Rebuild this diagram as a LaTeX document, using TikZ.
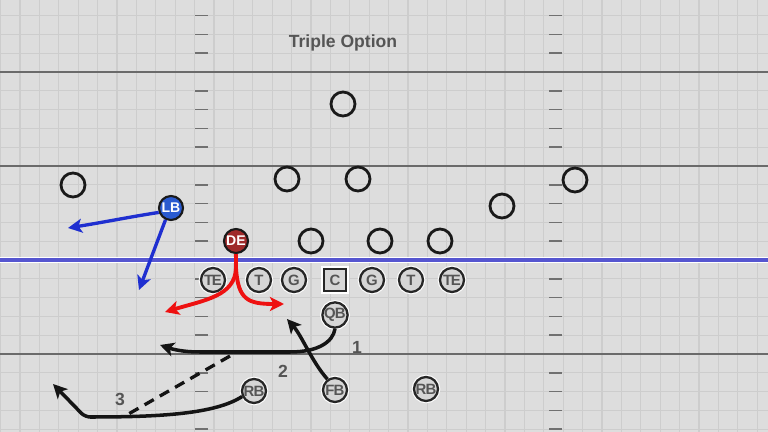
\documentclass[tikz,border=0pt]{standalone}
\usepackage{fontspec}
\setmainfont{Liberation Sans}
\usetikzlibrary{arrows.meta}
\definecolor{bgc}{HTML}{DDDDDD}
\definecolor{gridc}{HTML}{CDCDCD}
\definecolor{yardc}{HTML}{6A6A6A}
\definecolor{hashc}{HTML}{707070}
\definecolor{losc}{HTML}{5656D0}
\definecolor{labgray}{HTML}{555555}
\definecolor{offfill}{HTML}{D6D6D6}
\definecolor{lbblue}{HTML}{2A5BD0}
\definecolor{dered}{HTML}{9E2A2A}
\definecolor{redarr}{HTML}{EE1111}
\definecolor{bluearr}{HTML}{1F2FD0}
\begin{document}
\begin{tikzpicture}[x=0.02cm,y=-0.02cm,
  gridline/.style={draw=gridc,line width=0.6pt},
  yardline/.style={draw=yardc,line width=1.3pt},
  hashmark/.style={draw=hashc,line width=1pt},
  defn/.style={circle,draw=black!90,line width=1.6pt,minimum size=0.48cm,inner sep=0pt},
  offn/.style={circle,draw=black!85,fill=offfill,line width=1.3pt,minimum size=0.48cm,inner sep=0pt,
    font=\bfseries\fontsize{8.5}{8.5}\selectfont,text=labgray,preaction={draw=white,line width=2.6pt}},
  centern/.style={rectangle,draw=black!85,fill=offfill,line width=1.3pt,minimum size=0.45cm,inner sep=0pt,
    font=\bfseries\fontsize{8.5}{8.5}\selectfont,text=labgray,preaction={draw=white,line width=2.6pt}},
  playern/.style={circle,draw=black!90,line width=1.2pt,minimum size=0.48cm,inner sep=0pt,
    font=\bfseries\fontsize{8}{8}\selectfont,text=white},
  titlen/.style={font=\bfseries\fontsize{10}{10}\selectfont,text=labgray},
  numlab/.style={font=\bfseries\fontsize{10}{10}\selectfont,text=labgray},
  tip/.style={-{Stealth[length=8pt,width=8pt,inset=2pt]}},
  bluepath/.style={tip,draw=bluearr,line width=1.9pt},
  redpath/.style={tip,draw=redarr,line width=2.2pt},
  blackpath/.style={tip,draw=black!92,line width=2pt},
  dashpath/.style={draw=black!92,line width=1.9pt,dash pattern=on 6pt off 4pt}
]
\useasboundingbox (0,0) rectangle (768,432);
\fill[bgc] (0,0) rectangle (768,432);
% grid
\foreach \i in {0,...,39} \draw[gridline] ({0.6+19.4*\i},0) -- ({0.6+19.4*\i},432);
\foreach \k in {-4,...,19} \draw[gridline] (0,{72+18.8*\k}) -- (768,{72+18.8*\k});
% hash marks
\foreach \k in {-4,-3,-2,-1,1,2,3,4,6,7,8,9,11,12,13,14,16,17,18,19}{
  \draw[hashmark] (195,{72+18.8*\k}) -- (208,{72+18.8*\k});
  \draw[hashmark] (549,{72+18.8*\k}) -- (562,{72+18.8*\k});
}
% yard lines
\foreach \y in {72,166,354} \draw[yardline] (0,\y) -- (768,\y);
\draw[white,line width=3pt] (0,260) -- (768,260);
\draw[losc,line width=1.9pt] (0,260) -- (768,260);
% title
\node[titlen] (title) at (343,43) {Triple Option};
% defense
\node[defn] (d1) at (343,104) {};
\node[defn] (d2) at (73,185) {};
\node[defn] (d3) at (287,179) {};
\node[defn] (d4) at (358,179) {};
\node[defn] (d5) at (575,180) {};
\node[defn] (d6) at (502,206) {};
\node[defn] (d7) at (311,241) {};
\node[defn] (d8) at (380,241) {};
\node[defn] (d9) at (440,241) {};
\node[playern,fill=lbblue] (LB) at (171,208) {LB};
\node[playern,fill=dered] (DE) at (236,241) {DE};
% offense
\node[offn] (TEl) at (213,280) {T\kern-0.8pt E};
\node[offn] (Tl) at (259,280) {T};
\node[offn] (Gl) at (294,280) {G};
\node[centern] (C) at (335,280) {C};
\node[offn] (Gr) at (372,280) {G};
\node[offn] (Tr) at (411,280) {T};
\node[offn] (TEr) at (452,280) {T\kern-0.8pt E};
\node[offn] (QB) at (335,315) {Q\kern-0.5pt B};
\node[offn] (FB) at (335,390) {F\kern-0.5pt B};
\node[offn] (RBl) at (254,391) {R\kern-0.5pt B};
\node[offn] (RBr) at (426,389) {R\kern-0.5pt B};
% end points
\coordinate (lbw) at (68,228);
\coordinate (lbs) at (139,290);
\coordinate (split) at (236,268);
\coordinate (del) at (165,312);
\coordinate (der) at (284,304);
\coordinate (qbend) at (160,345);
\coordinate (fbend) at (287,319);
\coordinate (dsa) at (230,356);
\coordinate (dsb) at (125,416);
\coordinate (rbend) at (53,384);
% blue
\draw[bluepath] (LB.200) .. controls (135,216) and (105,222) .. (lbw);
\draw[bluepath] (LB.245) -- (lbs);
% red
\draw[draw=redarr,line width=2.2pt] (DE.south) -- (split);
\draw[redpath] (split) .. controls (235,296) and (205,300) .. (del);
\draw[redpath] (split) .. controls (238,300) and (248,304) .. (der);
% black
\draw[blackpath] (QB.south) .. controls (333,342) and (318,352) .. (290,352) -- (200,352) .. controls (182,352) and (172,349) .. (qbend);
\draw[blackpath] (FB.125) .. controls (312,362) and (302,336) .. (fbend);
\draw[dashpath] (dsa) -- (dsb);
\draw[blackpath,rounded corners=3pt] (RBl.205) .. controls (215,414) and (160,417) .. (85,417) -- (rbend);
% labels
\node[numlab] (n1) at (357,347) {1};
\node[numlab] (n2) at (283,371) {2};
\node[numlab] (n3) at (120,399) {3};
\end{tikzpicture}
\end{document}
